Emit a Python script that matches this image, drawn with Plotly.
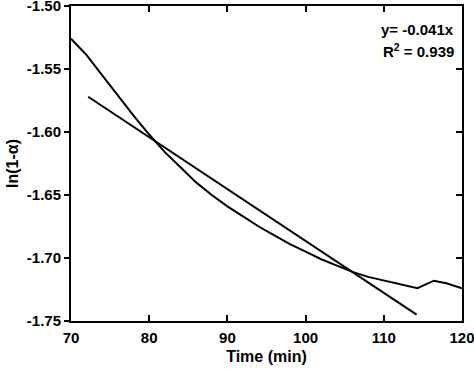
import plotly.graph_objects as go

# Experimental curve
time_curve = [70, 72, 74, 76, 78, 80, 82, 84, 86, 88, 90, 92, 94, 96, 98, 100,
              102, 104, 106, 108, 110, 112, 114.3, 116.4, 118, 120]
ln_curve = [-1.526, -1.539, -1.555, -1.571, -1.587, -1.602, -1.616, -1.628,
            -1.640, -1.650, -1.659, -1.667, -1.675, -1.682, -1.689, -1.695,
            -1.701, -1.706, -1.711, -1.715, -1.718, -1.721, -1.724, -1.718,
            -1.720, -1.724]

# Linear fit
time_fit = [72.2, 114.2]
ln_fit = [-1.572, -1.745]

x_ticks = [70, 80, 90, 100, 110, 120]
x_tick_text = ["<b>70</b>", "<b>80</b>", "<b>90</b>", "<b>100</b>", "<b>110</b>", "<b>120</b>"]
y_ticks = [-1.50, -1.55, -1.60, -1.65, -1.70, -1.75]
y_tick_text = ["<b>-1.50</b>", "<b>-1.55</b>", "<b>-1.60</b>", "<b>-1.65</b>",
               "<b>-1.70</b>", "<b>-1.75</b>"]

FONT = "Liberation Sans, Arial, sans-serif"

fig = go.Figure()
fig.add_trace(go.Scatter(x=time_curve, y=ln_curve, mode="lines",
                         line=dict(color="black", width=2), showlegend=False))
fig.add_trace(go.Scatter(x=time_fit, y=ln_fit, mode="lines",
                         line=dict(color="black", width=2), showlegend=False))
# invisible trace to activate the right-hand axis (inside ticks)
fig.add_trace(go.Scatter(x=[time_curve[0]], y=[ln_curve[0]], mode="markers",
                         yaxis="y2", marker=dict(opacity=0), showlegend=False,
                         hoverinfo="skip"))

fig.update_layout(
    width=474, height=370,
    margin=dict(l=71, r=12, t=6, b=49, autoexpand=False),
    paper_bgcolor="white", plot_bgcolor="white",
    font=dict(family=FONT, color="black", size=15),
    xaxis=dict(range=[70, 120], tickmode="array", tickvals=x_ticks,
               ticktext=x_tick_text, ticks="inside", ticklen=6, tickwidth=2,
               tickcolor="black", ticklabelstandoff=2,
               showline=True, linewidth=2, linecolor="black", mirror="ticks",
               showgrid=False, zeroline=False,
               automargin=False, ticklabeloverflow="allow",
               tickfont=dict(size=15, family=FONT, color="black"),
               title=dict(text="<b>Time (min)</b>", font=dict(size=16, family=FONT),
                          standoff=6)),
    yaxis=dict(range=[-1.75, -1.50], tickmode="array", tickvals=y_ticks,
               ticktext=y_tick_text, ticks="outside", ticklen=5, tickwidth=2,
               tickcolor="black",
               showline=True, linewidth=2, linecolor="black",
               showgrid=False, zeroline=False, automargin=False,
               ticklabeloverflow="allow",
               tickfont=dict(size=15, family=FONT, color="black"),
               title=dict(text="<b>ln(1-α)</b>", font=dict(size=16, family=FONT),
                          standoff=4)),
    yaxis2=dict(range=[-1.75, -1.50], overlaying="y", side="right",
                tickmode="array", tickvals=y_ticks, ticks="inside", ticklen=6,
                tickwidth=2, tickcolor="black", showticklabels=False,
                showline=True, linewidth=2, linecolor="black", showgrid=False,
                zeroline=False, automargin=False),
    annotations=[
        dict(x=0.985, y=0.924, xref="paper", yref="paper", xanchor="right",
             yanchor="middle", showarrow=False, align="right",
             text="<b>y= -0.041x</b>", font=dict(size=15, family=FONT)),
        dict(x=0.985, y=0.86, xref="paper", yref="paper", xanchor="right",
             yanchor="middle", showarrow=False, align="right",
             text="<b>R<sup>2</sup> = 0.939</b>", font=dict(size=15, family=FONT)),
    ],
)

fig.write_html("out.html", config={"displayModeBar": False},
               post_script="document.body.style.margin='0';document.body.style.padding='0';")
